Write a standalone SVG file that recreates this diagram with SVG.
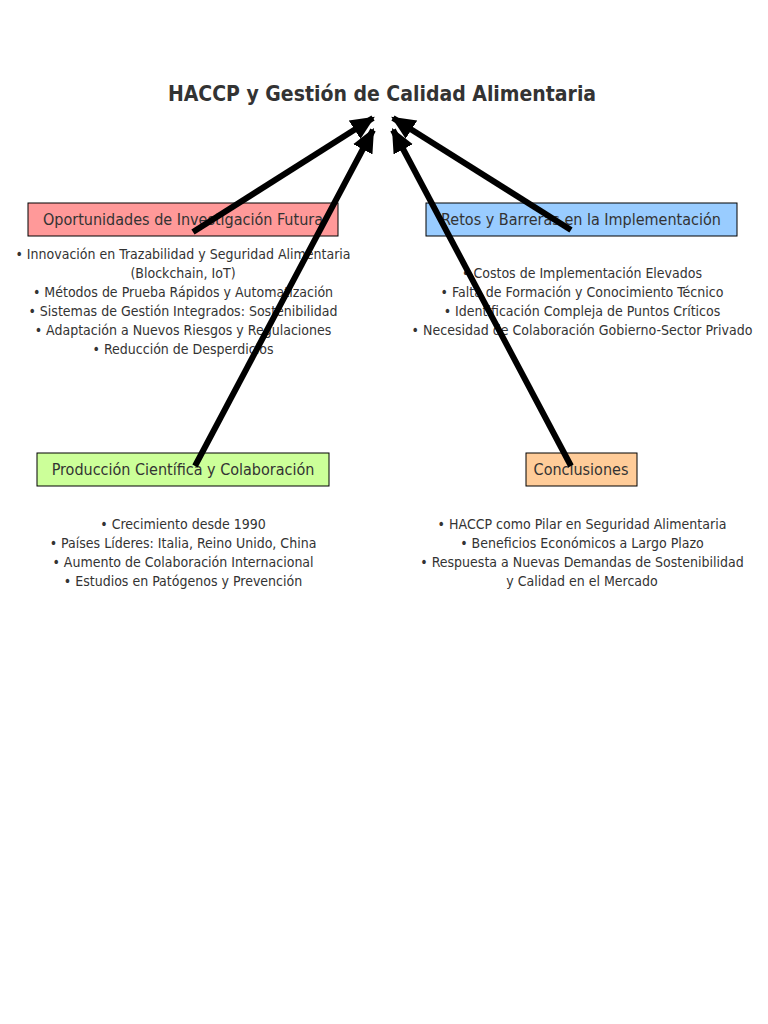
<svg xmlns="http://www.w3.org/2000/svg" width="768" height="1024" viewBox="0 0 768 1024">
<style>
text{font-family:"DejaVu Sans Condensed","DejaVu Sans",sans-serif;fill:#333;text-anchor:middle}
.t{font-size:21px;font-weight:bold}
.h{font-size:16px}
.l{font-size:14px}
rect{stroke:#000;stroke-width:1}
.c line{stroke:#000;stroke-width:6;marker-end:url(#a)}
</style>
<defs><marker id="a" markerUnits="userSpaceOnUse" markerWidth="24" markerHeight="24" refX="20" refY="10" orient="auto" viewBox="0 0 22 20"><path d="M0,0L22,10L0,20z" fill="#000"/></marker></defs>
<rect width="768" height="1024" fill="#fff" style="stroke:none"/>
<g id="title"><text class="t" x="382" y="101">HACCP y Gestión de Calidad Alimentaria</text></g>
<g id="oportunidades">
<rect x="28" y="203" width="310" height="33" fill="#ff9999"/>
<text class="h" x="183" y="225">Oportunidades de Investigación Futura</text>
<text class="l" x="183" y="259">• Innovación en Trazabilidad y Seguridad Alimentaria</text>
<text class="l" x="183" y="278">(Blockchain, IoT)</text>
<text class="l" x="183" y="297">• Métodos de Prueba Rápidos y Automatización</text>
<text class="l" x="183" y="316">• Sistemas de Gestión Integrados: Sostenibilidad</text>
<text class="l" x="183" y="335">• Adaptación a Nuevos Riesgos y Regulaciones</text>
<text class="l" x="183" y="354">• Reducción de Desperdicios</text>
</g>
<g id="retos">
<rect x="426" y="203" width="311" height="33" fill="#99ccff"/>
<text class="h" x="581" y="225">Retos y Barreras en la Implementación</text>
<text class="l" x="582" y="278">• Costos de Implementación Elevados</text>
<text class="l" x="582" y="297">• Falta de Formación y Conocimiento Técnico</text>
<text class="l" x="582" y="316">• Identificación Compleja de Puntos Críticos</text>
<text class="l" x="582" y="335">• Necesidad de Colaboración Gobierno-Sector Privado</text>
</g>
<g id="produccion">
<rect x="37" y="453" width="292" height="33" fill="#ccff99"/>
<text class="h" x="183" y="475">Producción Científica y Colaboración</text>
<text class="l" x="183" y="529">• Crecimiento desde 1990</text>
<text class="l" x="183" y="548">• Países Líderes: Italia, Reino Unido, China</text>
<text class="l" x="183" y="567">• Aumento de Colaboración Internacional</text>
<text class="l" x="183" y="586">• Estudios en Patógenos y Prevención</text>
</g>
<g id="conclusiones">
<rect x="526" y="453" width="111" height="33" fill="#ffcc99"/>
<text class="h" x="581" y="475">Conclusiones</text>
<text class="l" x="582" y="529">• HACCP como Pilar en Seguridad Alimentaria</text>
<text class="l" x="582" y="548">• Beneficios Económicos a Largo Plazo</text>
<text class="l" x="582" y="567">• Respuesta a Nuevas Demandas de Sostenibilidad</text>
<text class="l" x="582" y="586">y Calidad en el Mercado</text>
</g>
<g class="c" id="connectors">
<line x1="193" y1="232" x2="373" y2="118"/>
<line x1="195" y1="466" x2="373" y2="130"/>
<line x1="571" y1="230" x2="393" y2="118"/>
<line x1="571" y1="466" x2="393" y2="130"/>
</g>
</svg>
